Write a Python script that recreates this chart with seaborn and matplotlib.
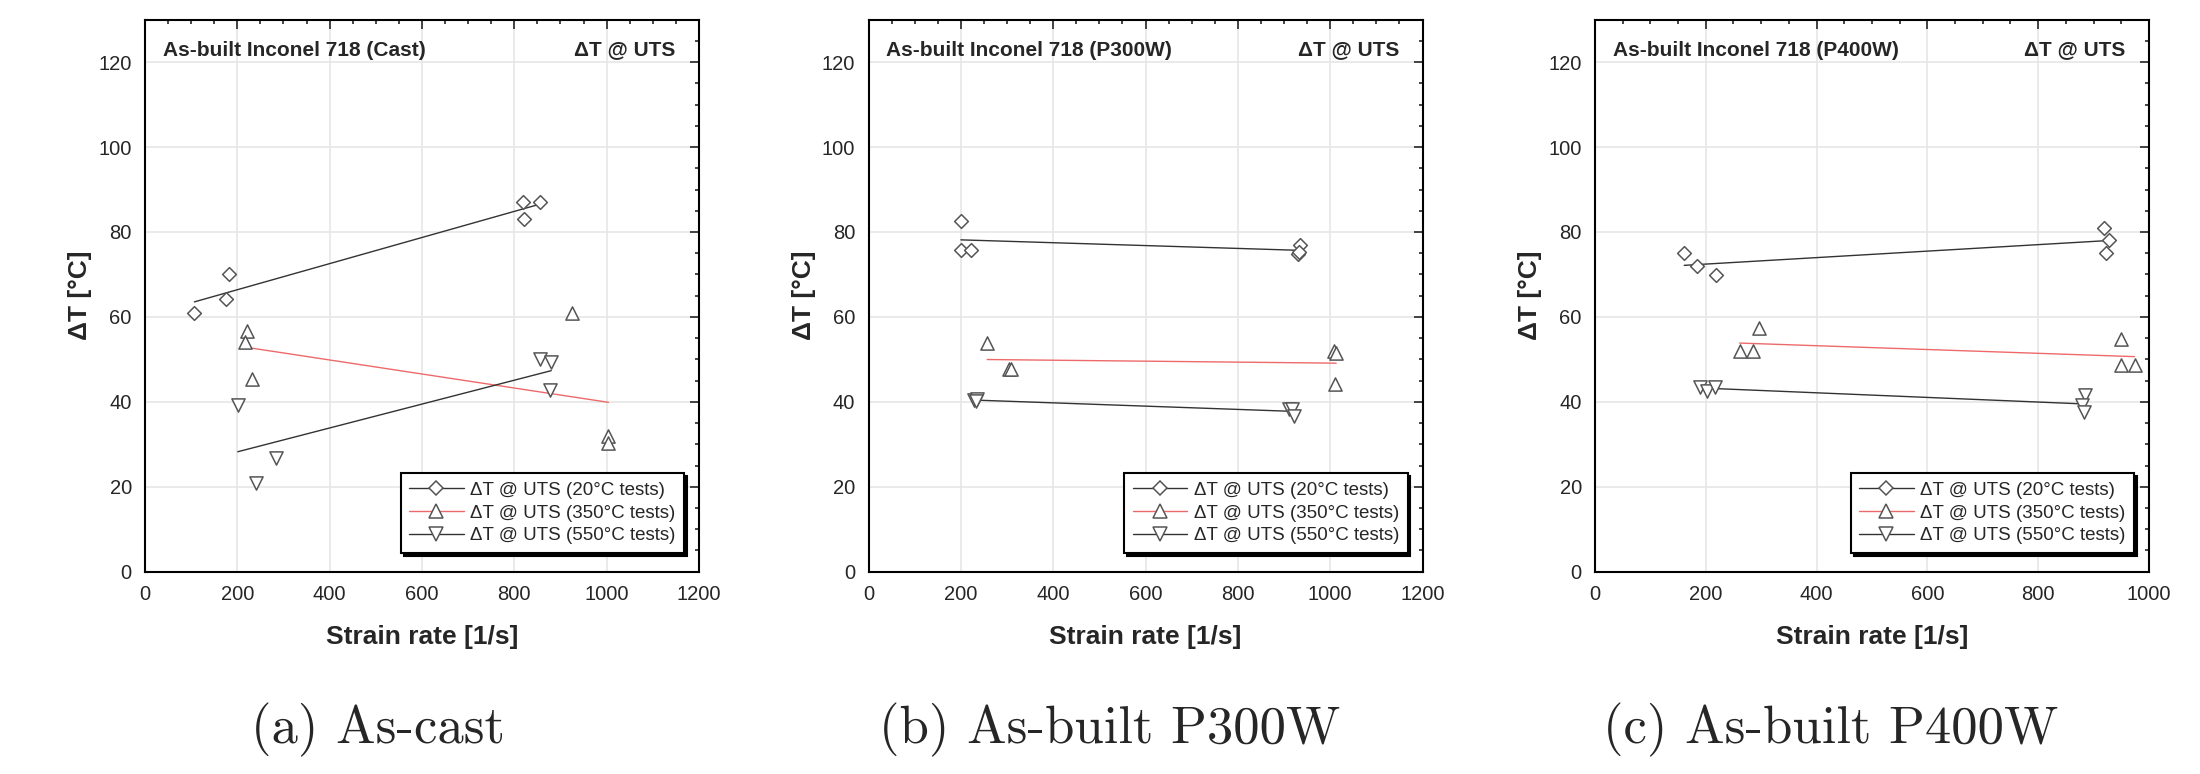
# dT at UTS vs strain rate for as-built Inconel 718 (cast, P300W, P400W)
import numpy as np
import pandas as pd
import seaborn as sns
import matplotlib.pyplot as plt
from matplotlib.lines import Line2D
from matplotlib.ticker import MultipleLocator

# values
# (a) cast
cast_x20 = [107, 175, 181, 819, 822, 856]
cast_y20 = [61.0, 64.3, 70.0, 87.1, 83.0, 87.1]
cast_x350 = [221, 217, 232, 924, 1003, 1004]
cast_y350 = [56.7, 54.1, 45.4, 61.0, 31.9, 30.2]
cast_x550 = [201, 283, 240, 856, 880, 877]
cast_y550 = [39.3, 26.8, 21.0, 50.2, 49.3, 42.8]

# (b) P300W
p300_x20 = [201, 200, 221, 934, 930, 932]
p300_y20 = [82.7, 75.8, 75.8, 77.0, 74.9, 75.2]
p300_x350 = [257, 304, 308, 1008, 1013, 1010]
p300_y350 = [53.9, 47.8, 47.8, 51.9, 51.4, 44.3]
p300_x550 = [229, 235, 232, 910, 918, 922]
p300_y550 = [40.4, 40.7, 40.1, 38.3, 38.3, 36.7]

# (c) P400W
p400_x20 = [161, 185, 219, 918, 927, 923]
p400_y20 = [75.1, 71.9, 69.8, 81.0, 78.1, 75.0]
p400_x350 = [296, 261, 286, 949, 949, 974]
p400_y350 = [57.5, 51.9, 51.9, 54.9, 48.6, 48.6]
p400_x550 = [190, 203, 216, 884, 880, 882]
p400_y550 = [43.5, 42.6, 43.5, 41.7, 39.3, 37.5]

panel_titles = ['As-built Inconel 718 (Cast)', 'As-built Inconel 718 (P300W)', 'As-built Inconel 718 (P400W)']
captions = ['(a) As-cast', '(b) As-built P300W', '(c) As-built P400W']
series_labels = ['ΔT @ UTS (20°C tests)', 'ΔT @ UTS (350°C tests)', 'ΔT @ UTS (550°C tests)']
x_max = [1200, 1200, 1000]

panels = [
    [(cast_x20, cast_y20), (cast_x350, cast_y350), (cast_x550, cast_y550)],
    [(p300_x20, p300_y20), (p300_x350, p300_y350), (p300_x550, p300_y550)],
    [(p400_x20, p400_y20), (p400_x350, p400_y350), (p400_x550, p400_y550)],
]

markers = ['D', '^', 'v']
msizes = [7.0, 9.5, 9.5]
line_colors = ['#333333', '#ee6a6a', '#333333']
edge = '#555555'

sns.set_style('white')
plt.rcParams['font.family'] = ['Liberation Sans', 'DejaVu Sans']

fig = plt.figure(figsize=(22, 7.74), dpi=100)
lefts = [0.0659, 0.3948, 0.7250]
cap_x = [0.1718, 0.5045, 0.8323]

for i, series in enumerate(panels):
    ax = fig.add_axes([lefts[i], 0.2614, 0.2518, 0.7132])
    for k, (xs, ys) in enumerate(series):
        df = pd.DataFrame({'x': xs, 'y': ys})
        # linear fit over the data range
        sns.regplot(data=df, x='x', y='y', scatter=False, ci=None, truncate=True,
                    color=line_colors[k], line_kws={'lw': 1.0, 'zorder': 2}, ax=ax)
        sns.scatterplot(data=df, x='x', y='y', marker=markers[k], s=msizes[k] ** 2,
                        color='white', edgecolor=edge, linewidth=1.1, zorder=3, ax=ax)

    ax.set_xlim(0, x_max[i])
    ax.set_ylim(0, 130)
    ax.xaxis.set_major_locator(MultipleLocator(200))
    ax.xaxis.set_minor_locator(MultipleLocator(50))
    ax.yaxis.set_major_locator(MultipleLocator(20))
    ax.yaxis.set_minor_locator(MultipleLocator(5))
    ax.set_yticks(range(0, 121, 20))
    ax.grid(True, which='major', color='#e6e6e6', lw=1.2)
    ax.set_axisbelow(True)
    ax.tick_params(which='both', direction='in', top=True, right=True, width=1.2,
                   labelsize=14.5, pad=9.5)
    ax.tick_params(which='major', length=6.5)
    ax.tick_params(which='minor', length=3)
    for sp in ax.spines.values():
        sp.set_linewidth(1.5)
        sp.set_color('black')

    ax.set_xlabel('Strain rate [1/s]', fontsize=19, fontweight='bold', labelpad=15)
    ax.set_ylabel('ΔT [°C]', fontsize=19, fontweight='bold')
    ax.yaxis.set_label_coords(-0.095, 0.5)

    ax.text(0.032, 0.945, panel_titles[i], transform=ax.transAxes, fontsize=15,
            fontweight='bold', va='center', ha='left')
    ax.text(0.958, 0.945, 'ΔT @ UTS', transform=ax.transAxes, fontsize=15,
            fontweight='bold', va='center', ha='right')

    handles = [Line2D([], [], color=line_colors[k], lw=1.0, marker=markers[k],
                      ms=msizes[k], mfc='white', mec=edge, mew=1.1) for k in range(3)]
    leg = ax.legend(handles, series_labels, loc='lower right', bbox_to_anchor=(0.973, 0.034),
                    borderaxespad=0, fontsize=13.5, frameon=True, fancybox=False, framealpha=1,
                    edgecolor='black', handlelength=2.9, handletextpad=0.35,
                    labelspacing=0.3, borderpad=0.45, shadow={'color': 'black', 'alpha': 1})
    leg.get_frame().set_linewidth(1.5)

    fig.text(cap_x[i], 0.057, captions[i], fontsize=38, family='cmr10', ha='center', va='center')

fig.savefig('out.png', dpi=100)
